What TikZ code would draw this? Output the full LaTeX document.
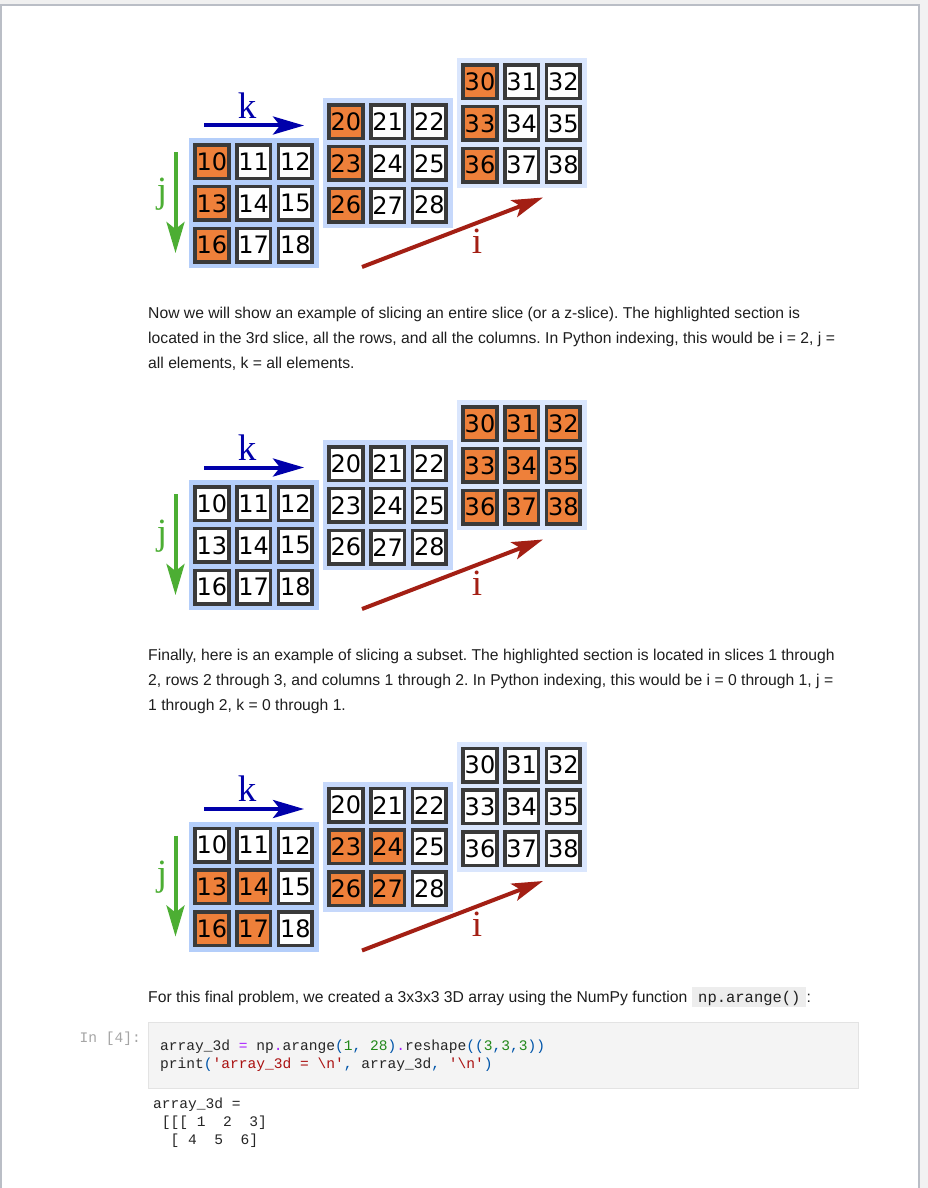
\documentclass[tikz,border=0pt]{standalone}
\usepackage{fontspec}
\setmainfont{Liberation Sans}
\newfontfamily\monof{Liberation Mono}
\newfontfamily\cellf{DejaVu Sans}
\newfontfamily\axisf{Liberation Serif}
\usetikzlibrary{arrows.meta}
\definecolor{cellorange}{RGB}{238,128,58}
\definecolor{celldark}{RGB}{58,58,58}
\definecolor{frontblue}{RGB}{180,206,250}
\definecolor{midblue}{RGB}{198,216,251}
\definecolor{backblue}{RGB}{218,230,253}
\definecolor{kblue}{RGB}{0,0,170}
\definecolor{jgreen}{RGB}{76,174,51}
\definecolor{ired}{RGB}{163,31,20}
\definecolor{txt}{RGB}{30,30,30}
\definecolor{pagegray}{RGB}{186,190,198}
\definecolor{cpurple}{RGB}{170,34,255}
\definecolor{cblue}{RGB}{0,85,170}
\definecolor{cgreen}{RGB}{34,136,26}
\definecolor{cred}{RGB}{170,17,17}
\definecolor{promptgray}{RGB}{165,165,165}
\tikzset{
  panel/.style={draw=none,inner sep=0pt,minimum width=130,minimum height=130},
  cellbox/.style={draw=celldark,line width=3.6,fill=white,inner sep=0pt,minimum width=33.5,minimum height=33.5,text=black,font=\cellf\fontsize{24}{24}\selectfont},
  hot/.style={fill=cellorange},
  axisarrow/.style={line width=4,-{Stealth[length=31,width=18,inset=7]}},
  axislabel/.style={inner sep=0pt,font=\axisf\fontsize{37}{37}\selectfont},
  para/.style={anchor=base west,inner sep=0pt,text=txt,font=\frenchspacing\fontsize{15.7}{15.7}\selectfont},
  codeline/.style={anchor=base west,inner sep=0pt,text=black!85,font=\monof\fontsize{14.58}{14.58}\selectfont},
}
\makeatletter
\newcommand{\drawslice}[6]{% name prefix, x, y of first cell centre, colour, first number, highlighted
  \node[panel,fill=#4] (#1box) at ({#2+41.7},{#3+41.7}) {};
  \foreach \r in {0,1,2}{
    \foreach \c in {0,1,2}{
      \pgfmathtruncatemacro{\num}{#5+3*\r+\c}
      \begingroup
      \edef\tmp{\noexpand\in@{,\num,}{,#6,}}\tmp
      \ifin@\def\stl{hot}\else\def\stl{}\fi
      \edef\tmp{\noexpand\node[cellbox,\stl] (#1\num) at ({#2+41.7*\c},{#3+41.7*\r}) {\num};}\tmp
      \endgroup
    }
  }
}
\makeatother
\newcommand{\drawfigure}[3]{% id, dy, list
  \begin{scope}[yshift=-#2]
    \drawslice{b#1}{480}{81.7}{backblue}{30}{#3}
    \drawslice{m#1}{346}{121.7}{midblue}{20}{#3}
    \drawslice{f#1}{212}{161.7}{frontblue}{10}{#3}
    \coordinate (ks#1) at (204,125.5);
    \coordinate (ke#1) at (304,125.5);
    \coordinate (js#1) at (175.5,152);
    \coordinate (je#1) at (175.5,253);
    \coordinate (is#1) at (362,267);
    \coordinate (ie#1) at (543,197.5);
    \draw[axisarrow,kblue] (ks#1) -- (ke#1);
    \draw[axisarrow,jgreen] (js#1) -- (je#1);
    \draw[axisarrow,ired] (is#1) -- (ie#1);
    \node[axislabel,text=kblue,anchor=base] (kl#1) at (247,118) {k};
    \node[axislabel,text=jgreen,anchor=base] (jl#1) at (162,202) {j};
    \node[axislabel,text=ired,anchor=base] (il#1) at (477,253) {i};
  \end{scope}
}
\begin{document}
\begin{tikzpicture}[x=1pt,y=-1pt]
\useasboundingbox (0,0) rectangle (928,1188);
\fill[white] (0,0) rectangle (928,1188);
\fill[black!6] (0,0) rectangle (928,4);
\fill[black!5] (920,0) rectangle (928,1188);
\fill[pagegray] (0,4) rectangle (920,5.7);
\fill[pagegray] (0,4) rectangle (2,1188);
\fill[pagegray] (918,4) rectangle (920,1188);

\drawfigure{a}{0}{10,13,16,20,23,26,30,33,36}
\drawfigure{b}{342}{30,31,32,33,34,35,36,37,38}
\drawfigure{c}{683.5}{13,14,16,17,23,24,26,27}

\node[para] (t1) at (148,318) {Now we will show an example of slicing an entire slice (or a z-slice). The highlighted section is};
\node[para] (t2) at (148,343.5) {located in the 3rd slice, all the rows, and all the columns. In Python indexing, this would be i = 2, j =};
\node[para] (t3) at (148,368) {all elements, k = all elements.};
\node[para] (t4) at (148,660) {Finally, here is an example of slicing a subset. The highlighted section is located in slices 1 through};
\node[para] (t5) at (148,685.5) {2, rows 2 through 3, and columns 1 through 2. In Python indexing, this would be i = 0 through 1, j =};
\node[para] (t6) at (148,710) {1 through 2, k = 0 through 1.};
\node[para] (t7) at (148,1002) {For this final problem, we created a 3x3x3 3D array using the NumPy function};
\fill[black!7] (692,987) rectangle (806,1007);
\node[para,font=\monof\fontsize{15.5}{15.5}\selectfont] (t8) at (698,1002) {np.arange()};
\node[para] (t9) at (806.5,1002) {:};

\node[codeline,text=promptgray] (prompt) at (79.5,1042) {In~[4]:};
\draw[draw=black!11,fill=black!4.5,line width=1.2] (148.3,1022.6) rectangle (858.7,1088.6);
\node[codeline] (c1) at (160,1050.5) {array\_3d \textcolor{cpurple}{=} np\textcolor{cpurple}{.}arange\textcolor{cblue}{(}\textcolor{cgreen}{1}\textcolor{cblue}{,} \textcolor{cgreen}{28}\textcolor{cblue}{)}\textcolor{cpurple}{.}reshape\textcolor{cblue}{((}\textcolor{cgreen}{3}\textcolor{cblue}{,}\textcolor{cgreen}{3}\textcolor{cblue}{,}\textcolor{cgreen}{3}\textcolor{cblue}{))}};
\node[codeline] (c2) at (160,1068.5) {print\textcolor{cblue}{(}\textcolor{cred}{'array\_3d = \textbackslash n'}\textcolor{cblue}{,} array\_3d\textcolor{cblue}{,} \textcolor{cred}{'\textbackslash n'}\textcolor{cblue}{)}};
\node[codeline] (o1) at (153,1108) {array\_3d =};
\node[codeline] (o2) at (153,1126.5) {~[[[~1~~2~~3]};
\node[codeline] (o3) at (153,1144) {~~[~4~~5~~6]};
\end{tikzpicture}
\end{document}
